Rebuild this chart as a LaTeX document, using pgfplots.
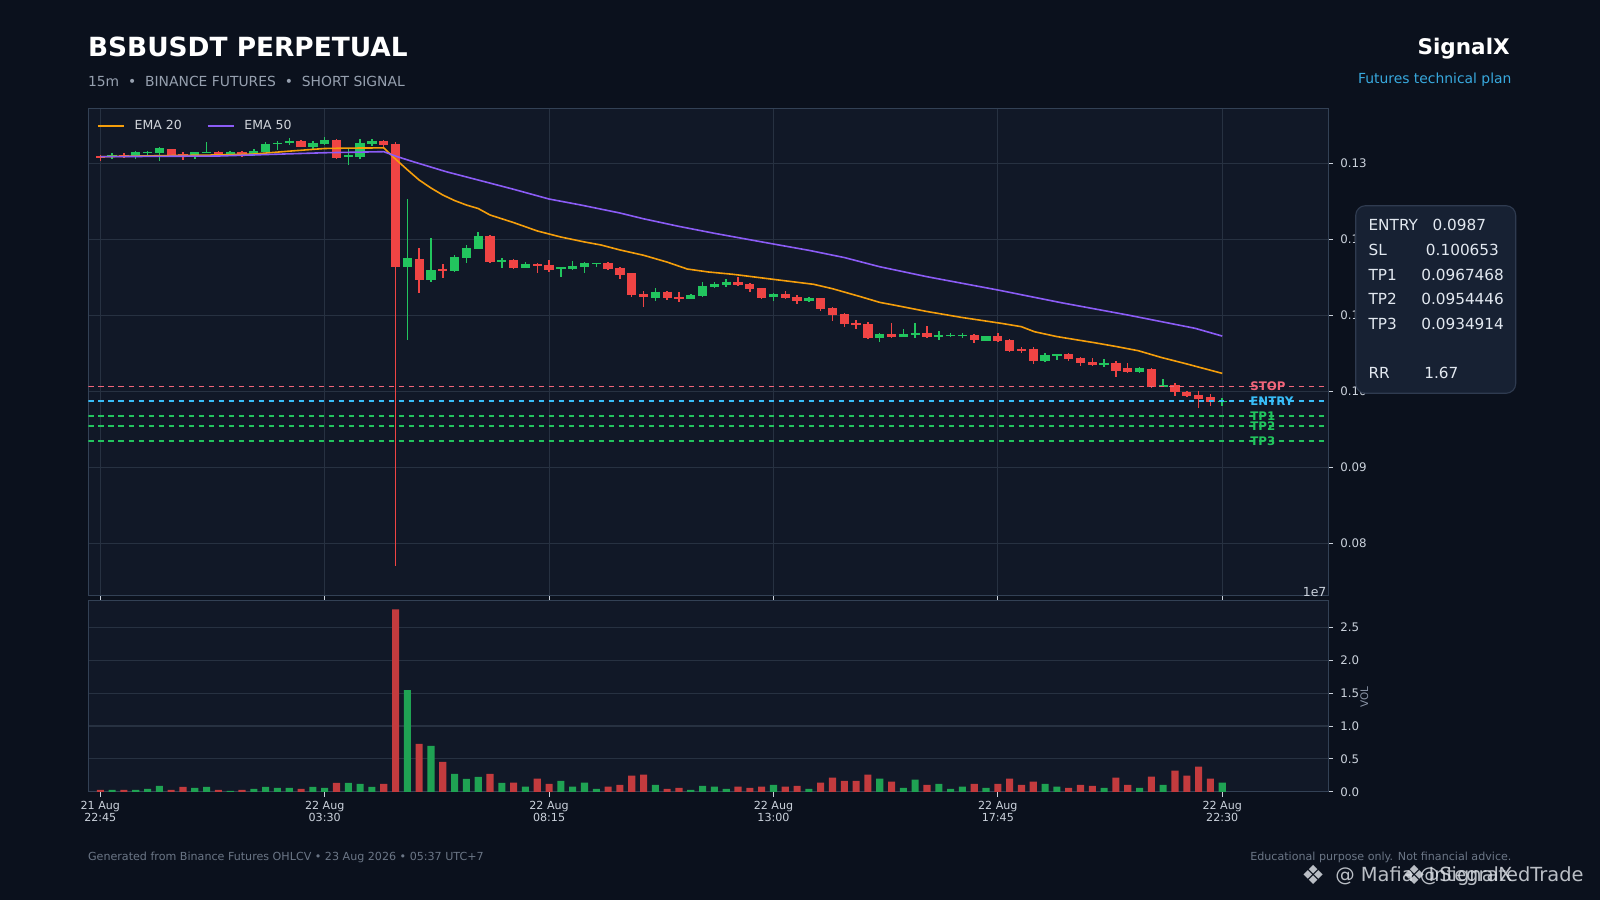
\documentclass[border=0pt]{standalone}
\usepackage{fontspec}
\setmainfont{DejaVu Sans}
\usepackage{pgfplots}
\pgfplotsset{compat=1.18}
\usepackage{pgfplotstable}

\definecolor{figbg}{HTML}{0B111D}
\definecolor{axbg}{HTML}{111827}
\definecolor{gridc}{HTML}{273141}
\definecolor{spinec}{HTML}{334155}
\definecolor{tickc}{HTML}{CBD2DC}
\definecolor{upc}{HTML}{22C55E}
\definecolor{dnc}{HTML}{EF4444}
\definecolor{vup}{HTML}{1FA253}
\definecolor{vdn}{HTML}{C33B3E}
\definecolor{ema20}{HTML}{F59E0B}
\definecolor{ema50}{HTML}{8B5CF6}
\definecolor{stopc}{HTML}{F0657A}
\definecolor{entryc}{HTML}{38BDF8}
\definecolor{tpc}{HTML}{22C55E}
\definecolor{boxbg}{HTML}{172133}
\definecolor{boxdr}{HTML}{2F3B50}
\definecolor{boxtx}{HTML}{E2E8F0}
\definecolor{subc}{HTML}{96A0AF}
\definecolor{bluec}{HTML}{38A9DE}
\definecolor{footc}{HTML}{6B7686}
\definecolor{legtx}{HTML}{D1D5DB}
\definecolor{volc}{HTML}{8A94A6}
\definecolor{wmc}{HTML}{D9DDE3}

% i open high low close up volume(x1e7)
\pgfplotstableread{
i o h l c up v
0 0.13096 0.13105 0.13026 0.13070 0 0.030
1 0.13079 0.13132 0.13053 0.13113 1 0.030
2 0.13113 0.13139 0.13070 0.13079 0 0.030
3 0.13079 0.13158 0.13053 0.13149 1 0.030
4 0.13136 0.13158 0.13113 0.13149 1 0.045
5 0.13139 0.13211 0.13026 0.13201 1 0.091
6 0.13184 0.13192 0.13113 0.13113 0 0.030
7 0.13122 0.13149 0.13043 0.13105 0 0.076
8 0.13105 0.13149 0.13053 0.13149 1 0.061
9 0.13139 0.13280 0.13139 0.13149 1 0.076
10 0.13149 0.13158 0.13105 0.13113 0 0.030
11 0.13122 0.13158 0.13113 0.13149 1 0.015
12 0.13149 0.13158 0.13079 0.13105 0 0.030
13 0.13105 0.13184 0.13096 0.13166 1 0.045
14 0.13149 0.13280 0.13149 0.13254 1 0.076
15 0.13254 0.13290 0.13175 0.13271 1 0.061
16 0.13263 0.13333 0.13237 0.13297 1 0.061
17 0.13297 0.13307 0.13218 0.13218 0 0.045
18 0.13218 0.13290 0.13192 0.13263 1 0.076
19 0.13254 0.13350 0.13245 0.13307 1 0.061
20 0.13307 0.13316 0.13061 0.13070 0 0.136
21 0.13087 0.13192 0.12974 0.13105 1 0.136
22 0.13087 0.13316 0.13053 0.13271 1 0.121
23 0.13254 0.13324 0.13228 0.13297 1 0.076
24 0.13297 0.13307 0.13211 0.13245 0 0.121
25 0.13254 0.13284 0.07697 0.11639 0 2.773
26 0.11639 0.12530 0.10677 0.11754 1 1.545
27 0.11741 0.11881 0.11297 0.11464 0 0.727
28 0.11464 0.12013 0.11442 0.11596 1 0.697
29 0.11613 0.11671 0.11487 0.11587 0 0.455
30 0.11583 0.11789 0.11574 0.11767 1 0.273
31 0.11758 0.11925 0.11684 0.11885 1 0.197
32 0.11876 0.12092 0.11876 0.12043 1 0.227
33 0.12043 0.12052 0.11684 0.11705 0 0.273
34 0.11705 0.11754 0.11618 0.11731 1 0.136
35 0.11727 0.11737 0.11618 0.11626 0 0.138
36 0.11626 0.11697 0.11626 0.11675 1 0.077
37 0.11675 0.11684 0.11552 0.11652 0 0.199
38 0.11666 0.11727 0.11574 0.11596 0 0.122
39 0.11609 0.11635 0.11508 0.11631 1 0.168
40 0.11609 0.11714 0.11596 0.11652 1 0.077
41 0.11639 0.11697 0.11552 0.11688 1 0.138
42 0.11675 0.11692 0.11639 0.11688 1 0.046
43 0.11688 0.11697 0.11596 0.11609 0 0.077
44 0.11626 0.11630 0.11473 0.11530 0 0.107
45 0.11552 0.11552 0.11237 0.11267 0 0.245
46 0.11280 0.11323 0.11105 0.11237 0 0.260
47 0.11231 0.11355 0.11192 0.11310 1 0.107
48 0.11310 0.11320 0.11205 0.11231 0 0.046
49 0.11244 0.11302 0.11179 0.11214 0 0.061
50 0.11214 0.11280 0.11208 0.11267 1 0.031
51 0.11254 0.11434 0.11244 0.11385 1 0.092
52 0.11376 0.11434 0.11355 0.11412 1 0.077
53 0.11398 0.11473 0.11376 0.11442 1 0.046
54 0.11438 0.11500 0.11398 0.11402 0 0.077
55 0.11412 0.11421 0.11310 0.11346 0 0.061
56 0.11359 0.11359 0.11218 0.11231 0 0.077
57 0.11241 0.11297 0.11192 0.11280 1 0.107
58 0.11280 0.11316 0.11218 0.11231 0 0.077
59 0.11244 0.11263 0.11144 0.11188 0 0.092
60 0.11192 0.11237 0.11170 0.11227 1 0.046
61 0.11227 0.11227 0.11056 0.11083 0 0.138
62 0.11096 0.11105 0.10925 0.11004 0 0.214
63 0.11017 0.11034 0.10842 0.10885 0 0.168
64 0.10902 0.10938 0.10823 0.10872 0 0.168
65 0.10885 0.10915 0.10684 0.10697 0 0.260
66 0.10697 0.10771 0.10652 0.10750 1 0.199
67 0.10754 0.10902 0.10712 0.10718 0 0.153
68 0.10718 0.10815 0.10712 0.10754 1 0.061
69 0.10740 0.10894 0.10697 0.10771 1 0.184
70 0.10771 0.10859 0.10712 0.10718 0 0.107
71 0.10710 0.10789 0.10675 0.10744 1 0.122
72 0.10727 0.10763 0.10710 0.10740 1 0.046
73 0.10727 0.10771 0.10697 0.10740 1 0.077
74 0.10744 0.10754 0.10631 0.10671 0 0.122
75 0.10661 0.10730 0.10658 0.10727 1 0.061
76 0.10727 0.10763 0.10652 0.10665 0 0.122
77 0.10675 0.10684 0.10513 0.10534 0 0.199
78 0.10552 0.10579 0.10500 0.10530 0 0.107
79 0.10552 0.10579 0.10355 0.10402 0 0.153
80 0.10402 0.10507 0.10389 0.10477 1 0.122
81 0.10468 0.10492 0.10411 0.10490 1 0.077
82 0.10490 0.10507 0.10402 0.10425 0 0.061
83 0.10442 0.10455 0.10336 0.10372 0 0.107
84 0.10385 0.10434 0.10343 0.10346 0 0.092
85 0.10346 0.10421 0.10323 0.10376 1 0.061
86 0.10376 0.10398 0.10192 0.10267 0 0.214
87 0.10302 0.10368 0.10255 0.10257 0 0.107
88 0.10257 0.10318 0.10244 0.10302 1 0.061
89 0.10293 0.10302 0.10047 0.10052 0 0.230
90 0.10056 0.10157 0.10054 0.10078 1 0.107
91 0.10082 0.10113 0.09942 0.09986 0 0.321
92 0.09994 0.10003 0.09921 0.09938 0 0.245
93 0.09955 0.10008 0.09776 0.09902 0 0.383
94 0.09921 0.09960 0.09810 0.09859 0 0.199
95 0.09855 0.09907 0.09810 0.09872 1 0.138
}\candles

\pgfplotsset{
  darkax/.style={
    scale only axis, anchor=north west, width=892.8pt,
    xmin=-1, xmax=104,
    axis background/.style={fill=axbg},
    axis line style={draw=spinec, line width=0.8pt},
    tick style={draw=tickc, line width=0.6pt},
    major tick length=3.4pt, tick align=outside,
    major grid style={draw=gridc, line width=0.75pt},
    xtick={0,19,38,57,76,95},
    xtick pos=bottom, ytick pos=right, yticklabel pos=right,
    scaled y ticks=false,
    /pgf/number format/assume math mode=true,
    yticklabel style={font=\fontsize{8.5}{10}\selectfont, text=tickc, xshift=1.6pt},
    xticklabel style={font=\fontsize{8}{8.6}\selectfont, text=tickc, align=center},
  },
}

\begin{document}
\begin{tikzpicture}
\begin{scope}[x=0.72pt,y=-0.72pt]
\fill[figbg] (0,0) rectangle (1600,900);
\end{scope}

% ---------------- price panel ----------------
\begin{axis}[darkax, at={(63.72pt,-77.98pt)}, height=350.64pt,
  ymin=0.073158, ymax=0.137237,
  ytick={0.08,0.09,0.10,0.11,0.12,0.13},
  yticklabel style={/pgf/number format/.cd, fixed, fixed zerofill, precision=2},
  xticklabels={},
  grid=major,
  legend style={at={(0,1)}, anchor=north west, xshift=6.2pt, yshift=-8.6pt,
    draw=none, fill=none, font=\fontsize{9}{10}\selectfont, text=legtx,
    legend columns=2, inner sep=0pt, outer sep=0pt,
    nodes={inner sep=0pt, anchor=west},
    /tikz/every odd column/.append style={column sep=7.2pt},
    /tikz/every even column/.append style={column sep=18pt}},
  legend image code/.code={\draw[#1, line width=1.15pt] (0pt,0pt) -- (18.7pt,0pt);},
]
% wicks
\addplot[forget plot, upc, draw=none, mark=none,
  restrict expr to domain={\thisrow{up}}{0.5:1.5},
  error bars/.cd, y dir=both, y explicit, error mark=none,
  error bar style={draw=upc, line width=1.05pt}]
  table[x=i, y=c, y error plus expr={\thisrow{h}-\thisrow{c}}, y error minus expr={\thisrow{c}-\thisrow{l}}] {\candles};
\addplot[forget plot, dnc, draw=none, mark=none,
  restrict expr to domain={\thisrow{up}}{-0.5:0.5},
  error bars/.cd, y dir=both, y explicit, error mark=none,
  error bar style={draw=dnc, line width=1.05pt}]
  table[x=i, y=c, y error plus expr={\thisrow{h}-\thisrow{c}}, y error minus expr={\thisrow{c}-\thisrow{l}}] {\candles};
% bodies
\addplot[forget plot, upc, draw=none, mark=none,
  restrict expr to domain={\thisrow{up}}{0.5:1.5},
  error bars/.cd, y dir=minus, y explicit, error mark=none,
  error bar style={draw=upc, line width=6.7pt, line cap=butt}]
  table[x=i, y expr={max(\thisrow{o},\thisrow{c})}, y error minus expr={abs(\thisrow{o}-\thisrow{c})}] {\candles};
\addplot[forget plot, dnc, draw=none, mark=none,
  restrict expr to domain={\thisrow{up}}{-0.5:0.5},
  error bars/.cd, y dir=minus, y explicit, error mark=none,
  error bar style={draw=dnc, line width=6.7pt, line cap=butt}]
  table[x=i, y expr={max(\thisrow{o},\thisrow{c})}, y error minus expr={abs(\thisrow{o}-\thisrow{c})}] {\candles};

% EMA lines
\addplot[ema20, line width=1.15pt, mark=none] coordinates {
(0,0.13087) (5,0.13100) (10,0.13110) (13,0.13122) (16,0.13160) (19,0.13195) (21,0.13200) (24,0.13203)
(25,0.13055) (26,0.12915) (27,0.12780) (28,0.12675) (29,0.12583) (30,0.12510) (31,0.12451) (32,0.12405)
(33,0.12320) (35,0.12220) (37,0.12110) (39,0.12030) (41,0.11965) (42.4,0.11925) (44,0.11860) (46,0.11790)
(48,0.11700) (49.7,0.11609) (51.5,0.11570) (53.6,0.11539) (57,0.11473) (60.4,0.11408) (62,0.11350)
(64.4,0.11244) (66,0.11170) (67.2,0.11135) (70,0.11050) (72.9,0.10973) (76.3,0.10894) (78,0.10850)
(79.1,0.10784) (81,0.10720) (84.2,0.10639) (86,0.10590) (87.9,0.10534) (89.8,0.10447) (92,0.10360) (95,0.10236)};
\addlegendentry{EMA 20}
\addplot[ema50, line width=1.15pt, mark=none] coordinates {
(0,0.13087) (10,0.13096) (19,0.13139) (24,0.13153) (25,0.13095) (26.5,0.13021) (29.3,0.12889) (32,0.12780)
(35,0.12658) (38,0.12530) (40.7,0.12451) (44,0.12346) (46,0.12270) (49,0.12170) (52,0.12079) (57,0.11938)
(60,0.11855) (63,0.11760) (66,0.11639) (70,0.11508) (76,0.11333) (81.4,0.11165) (87,0.11004) (92.7,0.10829) (95,0.10727)};
\addlegendentry{EMA 50}

% trade levels
\addplot[forget plot, draw=stopc, line width=1.1pt, dash pattern=on 4.3pt off 2.9pt] coordinates {(-1,0.100653) (104,0.100653)};
\addplot[forget plot, draw=entryc, line width=1.1pt, dash pattern=on 4.3pt off 2.9pt] coordinates {(-1,0.0987) (104,0.0987)};
\addplot[forget plot, draw=tpc, line width=1.1pt, dash pattern=on 4.3pt off 2.9pt] coordinates {(-1,0.0967468) (104,0.0967468)};
\addplot[forget plot, draw=tpc, line width=1.1pt, dash pattern=on 4.3pt off 2.9pt] coordinates {(-1,0.0954446) (104,0.0954446)};
\addplot[forget plot, draw=tpc, line width=1.1pt, dash pattern=on 4.3pt off 2.9pt] coordinates {(-1,0.0934914) (104,0.0934914)};
\node[anchor=west, inner sep=0pt, text=stopc, font=\bfseries\fontsize{8.5}{10}\selectfont] at (axis cs:97.36,0.100653) {STOP};
\node[anchor=west, inner sep=0pt, text=entryc, font=\bfseries\fontsize{8.5}{10}\selectfont] at (axis cs:97.36,0.0987) {ENTRY};
\node[anchor=west, inner sep=0pt, text=tpc, font=\bfseries\fontsize{8.5}{10}\selectfont] at (axis cs:97.36,0.0967468) {TP1};
\node[anchor=west, inner sep=0pt, text=tpc, font=\bfseries\fontsize{8.5}{10}\selectfont] at (axis cs:97.36,0.0954446) {TP2};
\node[anchor=west, inner sep=0pt, text=tpc, font=\bfseries\fontsize{8.5}{10}\selectfont] at (axis cs:97.36,0.0934914) {TP3};
\end{axis}

% ---------------- volume panel ----------------
\begin{axis}[darkax, at={(63.72pt,-432.22pt)}, height=137.88pt,
  ymin=0, ymax=2.91,
  ytick={0,0.5,1,1.5,2,2.5},
  yticklabel style={/pgf/number format/.cd, fixed, fixed zerofill, precision=1},
  xticklabels={{21 Aug\\22:45},{22 Aug\\03:30},{22 Aug\\08:15},{22 Aug\\13:00},{22 Aug\\17:45},{22 Aug\\22:30}},
  ymajorgrids,
]
\addplot[forget plot, ybar, bar width=0.6, bar shift=0pt, fill=vup, draw=none,
  restrict expr to domain={\thisrow{up}}{0.5:1.5}] table[x=i, y=v] {\candles};
\addplot[forget plot, ybar, bar width=0.6, bar shift=0pt, fill=vdn, draw=none,
  restrict expr to domain={\thisrow{up}}{-0.5:0.5}] table[x=i, y=v] {\candles};
\end{axis}

\begin{scope}[x=0.72pt,y=-0.72pt]
% header
\node[anchor=base west, inner sep=0pt, text=white, font=\bfseries\fontsize{19}{22}\selectfont] at (87.8,56.1) {BSBUSDT PERPETUAL};
\node[anchor=base west, inner sep=0pt, text=subc, font=\fontsize{10}{12}\selectfont] at (87.8,86.7) {15m~~•~~BINANCE FUTURES~~•~~SHORT SIGNAL};
\node[anchor=base east, inner sep=0pt, text=white, font=\bfseries\fontsize{15.5}{18}\selectfont] at (1510,54.3) {SignalX};
\node[anchor=base east, inner sep=0pt, text=bluec, font=\fontsize{10}{12}\selectfont] at (1511.7,83.3) {Futures technical plan};
% volume extras
\node[anchor=base east, inner sep=0pt, text=tickc, font=\fontsize{9}{10}\selectfont] at (1326.7,596.7) {1e7};
\node[rotate=90, inner sep=0pt, text=volc, font=\fontsize{7.5}{9}\selectfont] at (1364.3,696.7) {VOL};
% info box
\draw[fill=boxbg, draw=boxdr, line width=0.8pt, rounded corners=7pt] (1355.7,205.7) rectangle (1515.7,393.3);
\begin{scope}[every node/.style={anchor=base west, inner sep=0pt, text=boxtx, font=\fontsize{11}{13}\selectfont}]
\node at (1368.3,230) {ENTRY}; \node at (1432.3,230) {0.0987};
\node at (1368.3,255.3) {SL};   \node at (1425.7,255.3) {0.100653};
\node at (1368.3,280) {TP1};    \node at (1421,280) {0.0967468};
\node at (1368.3,304.3) {TP2};  \node at (1421,304.3) {0.0954446};
\node at (1368.3,329) {TP3};    \node at (1421,329) {0.0934914};
\node at (1368.3,378.3) {RR};   \node at (1424,378.3) {1.67};
\end{scope}
% footer
\node[anchor=base west, inner sep=0pt, text=footc, font=\fontsize{8}{10}\selectfont] at (87.8,860.7) {Generated from Binance Futures OHLCV • 23 Aug 2026 • 05:37 UTC+7};
\node[anchor=base east, inner sep=0pt, text=footc, font=\fontsize{8}{10}\selectfont] at (1511.7,860.7) {Educational purpose only. Not financial advice.};
% watermark (overlapping, as in the reference)
\begin{scope}[every node/.style={anchor=base west, inner sep=0pt, text=wmc, text opacity=0.85}]
\node[font=\fontsize{19}{20}\selectfont] at (1301,884) {❖};
\node[font=\fontsize{14}{16}\selectfont] at (1335,881.7) {@ Mafia @SignalX};
\node[font=\fontsize{19}{20}\selectfont] at (1402,884) {❖};
\node[font=\fontsize{14}{16}\selectfont] at (1428.3,881.7) {IntegratedTrade};
\end{scope}
\end{scope}
\end{tikzpicture}
\end{document}
